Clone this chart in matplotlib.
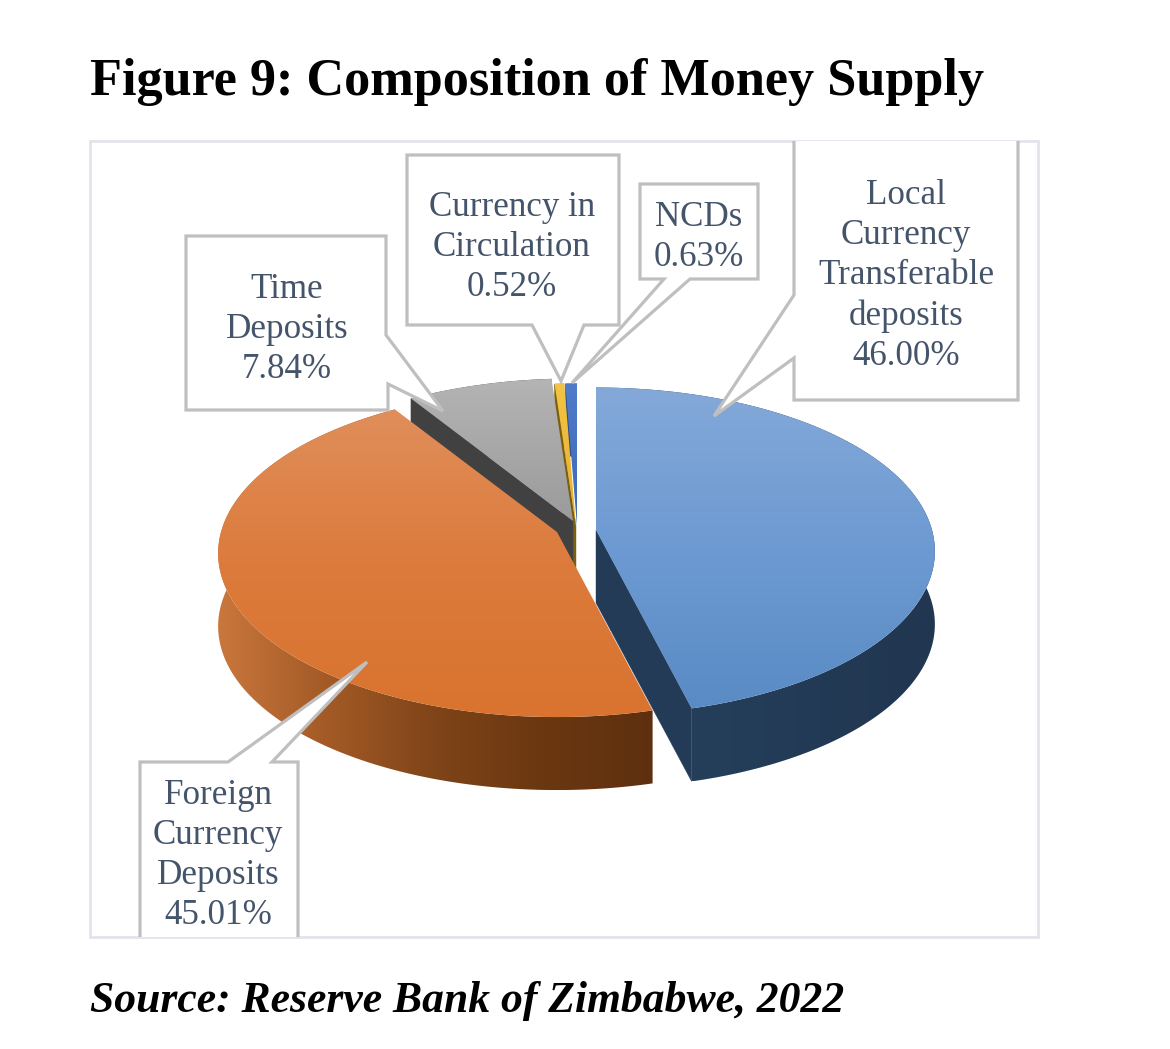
#!/usr/bin/env python3
"""Figure 9: Composition of Money Supply - exploded 3D style pie."""

import matplotlib
matplotlib.use("Agg")
import matplotlib.pyplot as plt
import numpy as np
from matplotlib.colors import LinearSegmentedColormap
from matplotlib.patches import Polygon, Rectangle

# Chart data, clockwise from twelve o'clock
categories = [
    "Local\nCurrency\nTransferable\ndeposits",
    "Foreign\nCurrency\nDeposits",
    "Time\nDeposits",
    "Currency in\nCirculation",
    "NCDs",
]
shares = [46.00, 45.01, 7.84, 0.52, 0.63]

title_text = "Figure 9: Composition of Money Supply"
source_text = "Source: Reserve Bank of Zimbabwe, 2022"

# Layout, everything below is in image pixels
W, H = 1170, 1049
FRAME = (90, 141, 1038, 937)
RX, RY, PERSP, DEPTH = 336, 161, 0.13, 73
apexes = [(596, 530), (557, 532), (573, 521), (576, 526), (577, 526)]

TEXT_COLOR = "#44546a"
LINE_COLOR = "#bfbfbf"

plt.rcParams["font.family"] = ["Liberation Serif", "DejaVu Serif"]


def rim(apex, angles):
    """Project points of the pie rim to the picture, with a little perspective."""
    u, v = np.sin(angles), np.cos(angles)
    s = 1 / (1 + PERSP * v)
    return np.column_stack([apex[0] + RX * u * s, apex[1] - RY * v * s])


def fill_gradient(ax, pts, stops, horizontal=False):
    """Fill a polygon with a linear gradient clipped to it."""
    cmap = LinearSegmentedColormap.from_list("g", stops)
    grad = np.linspace(0, 1, 256)
    grad = grad[None, :] if horizontal else grad[:, None]
    x0, y0 = pts.min(axis=0)
    x1, y1 = pts.max(axis=0)
    im = ax.imshow(grad, cmap=cmap, extent=(x0, x1, y1, y0), aspect="auto",
                   interpolation="bilinear", zorder=ax._next_z)
    patch = Polygon(pts, closed=True, transform=ax.transData, fc="none", ec="none")
    ax.add_patch(patch)
    im.set_clip_path(patch)
    ax._next_z += 1


def fill_flat(ax, pts, color):
    ax.add_patch(Polygon(pts, closed=True, fc=color, ec=color, lw=0.3, zorder=ax._next_z))
    ax._next_z += 1


def extrude(edge):
    """Band between an edge and the same edge pushed down by the pie depth."""
    return np.vstack([edge, edge[::-1] + [0, DEPTH]])


def draw_slice(ax, idx, a0, a1, top, wall, wall_horizontal=True, radial=None, radial_end=None):
    apex = np.array(apexes[idx], dtype=float)
    arc = rim(apex, np.linspace(a0, a1, 160))
    fill_gradient(ax, extrude(arc), wall, horizontal=wall_horizontal)
    if radial is not None:
        edge_end = arc[-1] if radial_end == "end" else arc[0]
        fill_flat(ax, extrude(np.array([apex, edge_end])), radial)
    fill_gradient(ax, np.vstack([apex, arc]), top)


def callout(ax, pts, box_clip):
    """White label box with its pointer, cut off by the chart frame."""
    poly = Polygon(pts, closed=True, fc="white", ec=LINE_COLOR, lw=2.3,
                   joinstyle="miter", zorder=50)
    ax.add_patch(poly)
    poly.set_clip_path(box_clip)


def main():
    fig = plt.figure(figsize=(W / 100, H / 100), dpi=100, facecolor="white")
    ax = fig.add_axes([0, 0, 1, 1])
    ax._next_z = 5

    # Slice angles come straight from the shares
    edges = np.cumsum([0] + shares) / sum(shares) * 2 * np.pi

    frame = Rectangle((FRAME[0], FRAME[1]), FRAME[2] - FRAME[0], FRAME[3] - FRAME[1],
                      fc="white", ec="#e2e4ec", lw=2.0, zorder=1)
    ax.add_patch(frame)

    # Back slices first so that the front ones cover them
    draw_slice(ax, 4, edges[4], edges[5], ["#4f7bc8", "#3f68b4"], ["#2c4a80", "#2c4a80"])
    draw_slice(ax, 3, edges[3], edges[4], ["#f3c445", "#e6ae2c"], ["#7f6000", "#7f6000"],
               radial="#7a5f10", radial_end="start")
    draw_slice(ax, 2, edges[2], edges[3], ["#b4b4b4", "#9b9b9b"], ["#555555", "#444444"],
               radial="#414141", radial_end="start")
    draw_slice(ax, 1, edges[1], edges[2], ["#e08e5b", "#dc7b3c", "#d9732f"],
               ["#c9773c", "#a35a26", "#7f4418", "#6a3711", "#5f300f"])
    draw_slice(ax, 0, edges[0], edges[1], ["#84a9d9", "#6d9ad2", "#5a8bc4"],
               ["#26425f", "#213650"], radial="#243b58", radial_end="end")

    # Label boxes: outline with the pointer running to the slice
    clip = Rectangle((FRAME[0], FRAME[1]), FRAME[2] - FRAME[0], FRAME[3] - FRAME[1],
                     transform=ax.transData)
    boxes = [
        [(794, 120), (1018, 120), (1018, 400), (794, 400), (794, 358), (714, 416), (794, 295)],
        [(140, 762), (228, 762), (367, 662), (272, 762), (298, 762), (298, 960), (140, 960)],
        [(186, 236), (386, 236), (386, 335), (443, 411), (388, 384), (388, 410), (186, 410)],
        [(407, 155), (619, 155), (619, 325), (584, 325), (561, 381), (532, 325), (407, 325)],
        [(640, 184), (758, 184), (758, 279), (690, 279), (572, 383), (664, 279), (640, 279)],
    ]
    for pts in boxes:
        callout(ax, pts, clip)

    label_pos = [(906, 276), (218, 856), (287, 330), (512, 247), (699, 238)]
    for name, share, (x, y) in zip(categories, shares, label_pos):
        ax.text(x, y, f"{name}\n{share:.2f}%", ha="center", va="center", fontsize=25.2,
                color=TEXT_COLOR, linespacing=1.28, zorder=60, clip_on=False)

    ax.text(90, 95, title_text, fontsize=37.6, fontweight="bold", color="black", va="baseline")
    ax.text(90, 1012, source_text, fontsize=31.4, fontweight="bold", style="italic",
            color="black", va="baseline")

    ax.set_xlim(0, W)
    ax.set_ylim(H, 0)
    ax.axis("off")
    fig.savefig("out.png", dpi=100, facecolor="white")
    plt.close(fig)


if __name__ == "__main__":
    main()
